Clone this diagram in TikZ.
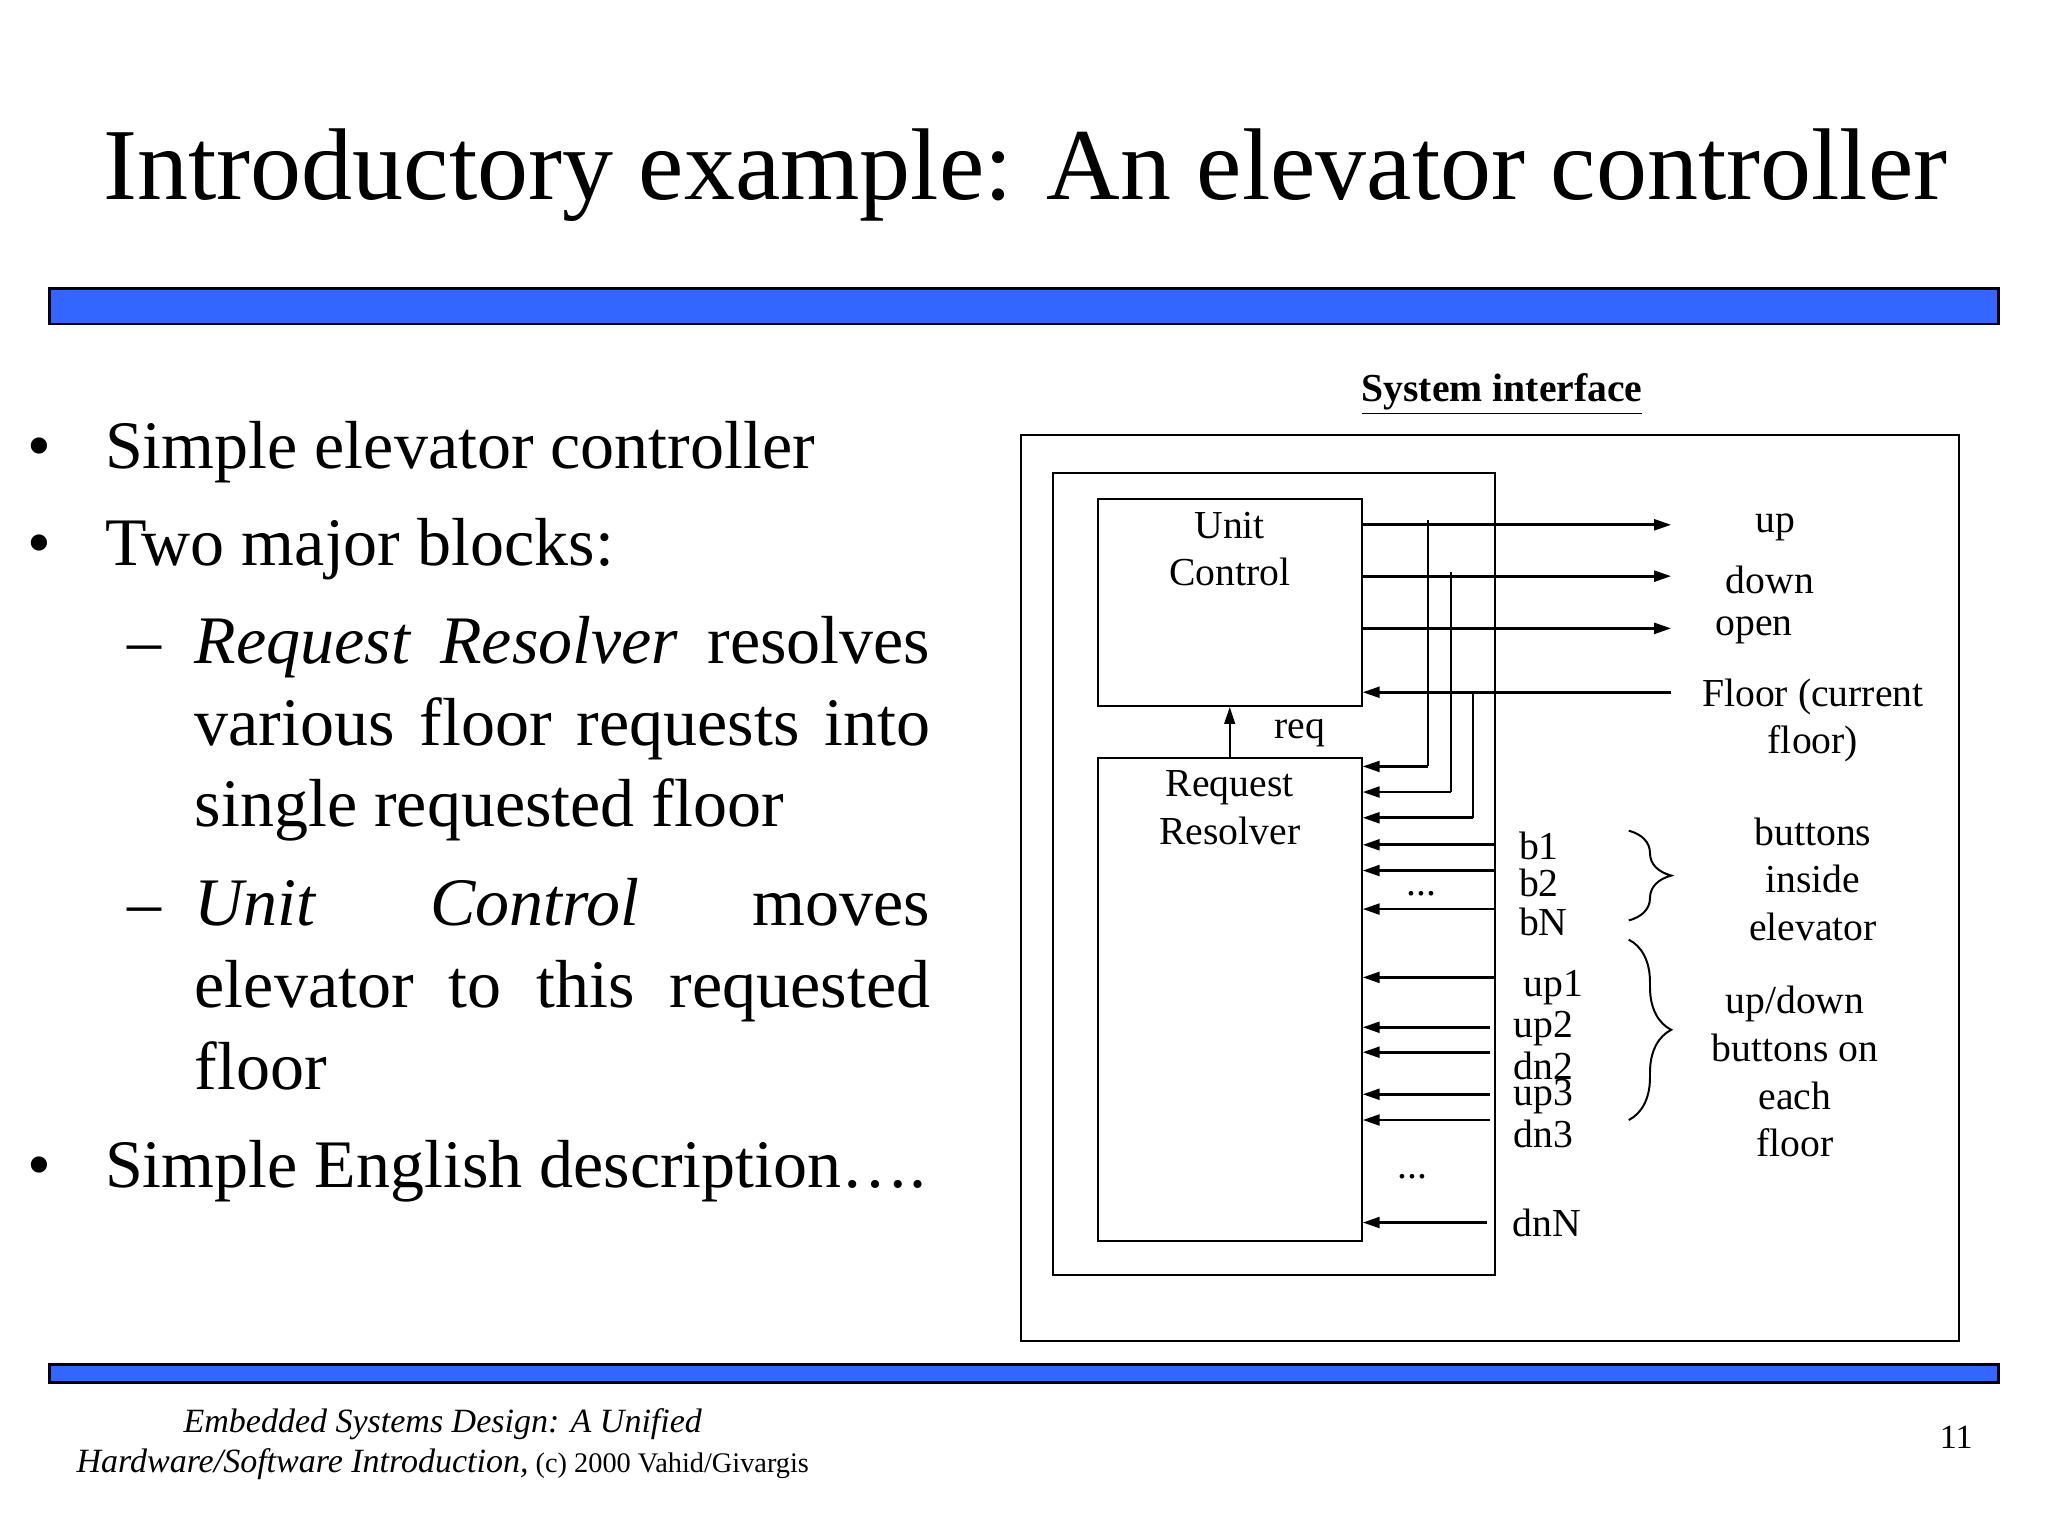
\documentclass[tikz,border=0pt]{standalone}
\usepackage{fontspec}
\setmainfont{Liberation Serif}
\usetikzlibrary{arrows.meta,decorations.pathreplacing,fit}
\definecolor{barblue}{RGB}{51,102,255}
\begin{document}
\begin{tikzpicture}[x=0.016199cm, y=-0.016199cm,
  bar/.style={draw=black, line width=1pt, fill=barblue, inner sep=0pt},
  box/.style={draw, line width=0.7pt, inner sep=0pt},
  sig/.style={line width=1pt, -{Triangle[length=6pt,width=3.8pt]}},
  wire/.style={line width=0.7pt},
  dtext/.style={font=\fontsize{14}{16.8}\selectfont, inner sep=0pt, align=center},
  ltext/.style={font=\fontsize{14}{16.8}\selectfont, inner sep=0pt, anchor=west},
  btext/.style={font=\fontsize{24}{28.8}\selectfont, inner sep=0pt, anchor=base west},
  bmark/.style={font=\fontsize{24}{28.8}\selectfont, inner sep=0pt, anchor=base},
  bracestyle/.style={decorate, decoration={brace, amplitude=15pt}, line width=0.7pt}
]
\useasboundingbox (0,0) rectangle (1568,1176);

% title and bars
\node[font=\fontsize{36}{43}\selectfont, anchor=base, inner sep=0pt] (title) at (785,152.5) {Introductory example: An elevator controller};
\node[bar, fit={(38,221) (1530,248)}] (topbar) {};
\node[bar, fit={(38,1044.5) (1530,1058.5)}] (botbar) {};

% bullets
\node[bmark] (m1) at (30,359) {•};
\node[btext] (l1) at (80,359) {Simple elevator controller};
\node[bmark] (m2) at (30,433) {•};
\node[btext] (l2) at (80,433) {Two major blocks:};
\node[bmark] (m3) at (111,508) {–};
\node[btext] (l3) at (148.7,508) {\makebox[9.125cm][s]{\textit{Request} \textit{Resolver} resolves}};
\node[btext] (l4) at (148.7,570.5) {\makebox[9.125cm][s]{various floor requests into}};
\node[btext] (l5) at (148.7,633) {single requested floor};
\node[bmark] (m4) at (111,708.5) {–};
\node[btext] (l6) at (148.7,708.5) {\makebox[9.125cm][s]{\textit{Unit} \textit{Control} moves}};
\node[btext] (l7) at (148.7,771.5) {\makebox[9.125cm][s]{elevator to this requested}};
\node[btext] (l8) at (148.7,834.5) {floor};
\node[bmark] (m5) at (30,909) {•};
\node[btext] (l9) at (80,909) {Simple English description….};

% diagram
\node[dtext, font=\fontsize{14}{16.8}\selectfont\bfseries] (sys) at (1150,302) {\underline{System interface}};
\node[box, fit={(781.5,333) (1500,1026.5)}] (outer) {};
\node[box, fit={(806.5,362) (1144.5,976)}] (inner) {};
\node[box, fit={(840.5,382) (1042.5,540.5)}] (uc) {};
\node[box, fit={(840.5,580) (1042.5,950.5)}] (rr) {};
\node[dtext] (uct) at (941.5,420.5) {Unit\\Control};
\node[dtext] (rrt) at (941.5,618.5) {Request\\Resolver};
\draw[sig, line width=0.7pt] (rr.north) -- (uc.south);
\node[dtext] (req) at (995,561) {req};

\coordinate (upE) at (1279.5,401.8);
\coordinate (dnE) at (1279.5,441.1);
\coordinate (opE) at (1279.5,481.1);
\coordinate (flE) at (1279.5,530);
\draw[sig] (uc.east |- upE) -- (upE);
\draw[sig] (uc.east |- dnE) -- (dnE);
\draw[sig] (uc.east |- opE) -- (opE);
\draw[sig] (flE) -- (uc.east |- flE);
\node[dtext] (upL) at (1359,404) {up};
\node[dtext] (dnL) at (1355,443.8) {down};
\node[dtext] (opL) at (1343,483) {open};
\node[dtext] (flL) at (1388,551.5) {Floor (current\\floor)};

% taps to request resolver
\coordinate (t1) at (1093.4,398.5); \coordinate (t1b) at (1093.4,586.8);
\coordinate (t2) at (1110.9,438.3); \coordinate (t2b) at (1110.9,606.4);
\coordinate (t3) at (1127.8,530); \coordinate (t3b) at (1127.8,626.1);
\draw[wire] (t1) -- (t1b);
\draw[wire] (t2) -- (t2b);
\draw[wire] (t3) -- (t3b);
\draw[sig] (t1b) -- (rr.east |- t1b);
\draw[sig] (t2b) -- (rr.east |- t2b);
\draw[sig] (t3b) -- (rr.east |- t3b);

% button inputs
\foreach \n/\x/\y in {b1/1144.5/646.8, b2/1144.5/666.5, bN/1144.5/696, up1/1144.5/748.3, up2/1141/786.5, dn2/1141/805.6, up3/1141/837.8, dn3/1141/857.5, dnN/1138.5/936}{
  \coordinate (in\n) at (\x,\y);
  \draw[sig] (in\n) -- (rr.east |- in\n);
}
\node[ltext] (b1L) at (1162.6,647.4) {b1};
\node[ltext] (b2L) at (1162.6,676.3) {b2};
\node[ltext] (bNL) at (1162.6,705.8) {bN};
\node[ltext] (up1L) at (1166.2,756.5) {up1};
\node[ltext] (up2L) at (1158.5,787.6) {up2};
\node[ltext] (dn2L) at (1158.5,816) {dn2};
\node[ltext] (up3L) at (1158.5,839.5) {up3};
\node[ltext] (dn3L) at (1158.5,867.8) {dn3};
\node[ltext] (dnNL) at (1157.5,936) {dnN};
\node[dtext] (dots1) at (1088.3,684) {...};
\node[dtext] (dots2) at (1081.7,900.6) {...};

\draw[bracestyle] (1247,636) -- (1247,704.7);
\draw[bracestyle] (1247,719.4) -- (1247,857.5);
\node[dtext] (inside) at (1388,673) {buttons\\inside\\elevator};
\node[dtext] (floorbtn) at (1374.2,820.6) {up/down\\buttons on\\each\\floor};

% footer
\node[font=\fontsize{12}{14.4}\selectfont\itshape, anchor=base, inner sep=0pt] (f1) at (339,1096.7) {Embedded Systems Design: A Unified};
\node[anchor=base, inner sep=0pt] (f2) at (339,1127.3) {{\fontsize{12}{14.4}\selectfont\itshape Hardware/Software Introduction,} {\fontsize{10}{12}\selectfont (c) 2000 Vahid/Givargis}};
\node[font=\fontsize{12}{14.4}\selectfont, anchor=base, inner sep=0pt] (pg) at (1497.8,1109.2) {11};
\end{tikzpicture}
\end{document}
